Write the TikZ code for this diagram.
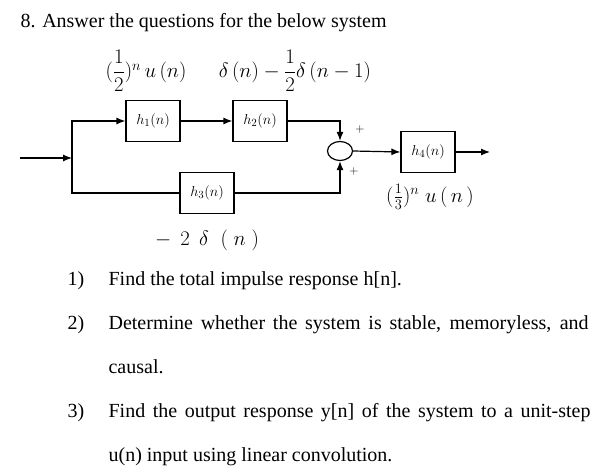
\documentclass[tikz,border=0pt]{standalone}
\usepackage{amsmath}
\usepackage{fontspec}
\setmainfont{Liberation Serif}
\usetikzlibrary{arrows.meta,shapes.geometric,positioning}

\begin{document}
\begin{tikzpicture}[x=1pt, y=-1pt, line width=1.2pt,
    >={Latex[length=9pt,width=7pt]},
    block/.style={draw, rectangle, minimum width=54pt, minimum height=41pt, inner sep=0pt, font=\fontsize{15}{17}\selectfont},
    summer/.style={draw, ellipse, minimum width=25pt, minimum height=19pt, inner sep=0pt},
    sig/.style={font=\fontsize{21}{24}\selectfont, inner sep=0pt},
    sign/.style={font=\fontsize{13}{15}\selectfont, inner sep=0pt},
    qtext/.style={anchor=base west, inner sep=0pt, font=\fontsize{20}{24}\selectfont}]
    \useasboundingbox (0,0) rectangle (597,473);

    \node[qtext] (title) at (20,28) {8. Answer the questions for the below system};

    \coordinate (in) at (20,158);
    \coordinate (split) at (72,158);
    \node[block] (h1) at (153,121) {$h_1(n)$};
    \node[block] (h2) at (260,121) {$h_2(n)$};
    \node[block] (h3) at (207,193) {$h_3(n)$};
    \node[summer] (sum) at (340,151) {};
    \node[block] (h4) at (428,152) {$h_4(n)$};
    \coordinate (out) at (490,152);

    \node[sig] (lab1) at (146,71) {$(\dfrac{1}{2})^n\,u\,(n)$};
    \node[sig] (lab2) at (295,71) {$\delta\,(n)-\dfrac{1}{2}\delta\,(n-1)$};
    \node[sig, font=\fontsize{20}{22}\selectfont] (lab3) at (207,240) {$-\;\,2\;\,\delta\;\;(\;n\;)$};
    \node[sig] (lab4) at (430,197) {$(\tfrac{1}{3})^n\;u\,(\,n\,)$};
    \node[sign] (plus1) at (360,130) {$+$};
    \node[sign] (plus2) at (354,172) {$+$};

    \draw[->] (in) -- (split);
    \draw[->] (split) |- (h1.west);
    \draw (split) |- (h3.west);
    \draw[->] (h1) -- (h2);
    \draw[->] (h2.east) -| (sum.north);
    \draw[->] (h3.east) -| (sum.south);
    \draw[->] (sum.east) -- (h4.west);
    \draw[->] (h4.east) -- (out);

    \node[qtext] (n1) at (67,285) {1)};
    \node[qtext] (q1) at (108,285) {Find the total impulse response h[n].};
    \node[qtext] (n2) at (67,329) {2)};
    \node[qtext] (q2) at (108,329) {\makebox[480pt][s]{Determine whether the system is stable, memoryless, and}};
    \node[qtext] (q2b) at (108,373) {causal.};
    \node[qtext] (n3) at (67,417) {3)};
    \node[qtext] (q3) at (108,417) {\makebox[482pt][s]{Find the output response y[n] of the system to a unit-step}};
    \node[qtext] (q3b) at (108,461) {u(n) input using linear convolution.};
\end{tikzpicture}
\end{document}
